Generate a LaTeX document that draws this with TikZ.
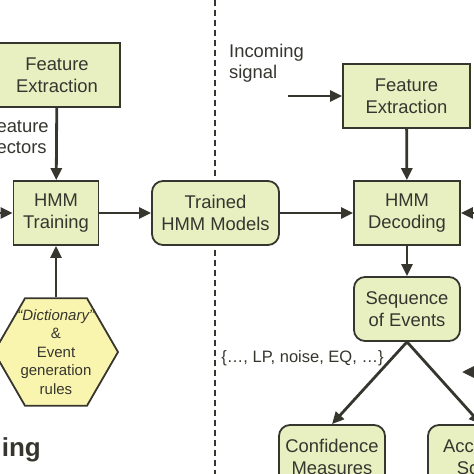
\documentclass[tikz,border=0pt]{standalone}
\usepackage{fontspec}
\setmainfont{Liberation Sans}
\usetikzlibrary{shapes.geometric,arrows.meta}
\definecolor{boxfill}{HTML}{E8F0C2}
\definecolor{hexfill}{HTML}{FAF5AE}
\definecolor{ink}{HTML}{36362F}

\begin{document}
\begin{tikzpicture}[x=1pt,y=-1pt,
    block/.style={draw=ink, line width=1.8pt, fill=boxfill, text=ink, align=center,
        minimum height=64pt, inner sep=0pt, font=\fontsize{18.4}{22}\selectfont},
    rblock/.style={block, rounded corners=11pt},
    arrow/.style={-{Triangle[length=12pt,width=11pt]}, line width=2.8pt, draw=ink},
    label/.style={text=ink, inner sep=0pt, font=\fontsize{18.4}{21}\selectfont}]
    \clip (0,0) rectangle (474,474);

    % split between training and recognition
    \draw[ink, line width=1.5pt, dash pattern=on 6pt off 4pt] (215,0) -- (215,474);

    % training side
    \node[block, minimum width=126pt] (featL) at (57,75) {Feature\\Extraction};
    \node[block, minimum width=85pt] (train) at (56,213) {HMM\\Training};
    \node[regular polygon, regular polygon sides=6, minimum size=124pt, inner sep=0pt,
        draw=ink, line width=1.8pt, fill=hexfill] (dict) at (56,352) {};
    \node[text=ink, align=center, inner sep=0pt, font=\fontsize{15}{18.5}\selectfont]
        (dictText) at (dict.center) {\textit{“Dictionary”}\\\&\\Event\\generation\\rules};
    \node[label, align=center] (vectors) at (17,137) {Feature\\vectors};
    \node[text=ink, anchor=east, inner sep=0pt, font=\fontsize{26}{30}\bfseries] (trainTitle) at (41,450) {Training};
    \coordinate (inL) at (0,213);

    \node[rblock, minimum width=127pt] (models) at (215.5,213) {Trained\\HMM Models};

    % recognition side
    \node[label, align=left, anchor=west] (signal) at (229,63) {Incoming\\signal};
    \coordinate (sigStart) at (288,96);
    \node[block, minimum width=127pt] (featR) at (406.5,96) {Feature\\Extraction};
    \node[block, minimum width=106pt] (decode) at (407,213) {HMM\\Decoding};
    \node[rblock, minimum width=106pt] (events) at (407,309) {Sequence\\of Events};
    \node[text=ink, inner sep=0pt, font=\fontsize{16.5}{20}\selectfont] (symbols) at (302.5,358)
        {\{…, LP, noise, EQ, …\}};
    \node[rblock, minimum width=106pt] (conf) at (332,457) {Confidence\\Measures};
    \node[rblock, minimum width=106pt] (acc) at (481,457) {Accuracy\\Score};
    \coordinate (inR) at (474,213);
    \coordinate (sideStart) at (474,372);
    \coordinate (sideTip) at (462,372);

    \draw[arrow] (featL) -- (train);
    \draw[arrow] (inL) -- (train);
    \draw[arrow] (dict.north) -- (train);
    \draw[arrow] (train) -- (models);
    \draw[arrow] (models) -- (decode);
    \draw[arrow] (sigStart) -- (featR);
    \draw[arrow] (featR) -- (decode);
    \draw[arrow] (inR) -- (decode);
    \draw[arrow] (decode) -- (events);
    \draw[arrow] (events.south) -- (conf.north);
    \draw[arrow] (events.south) -- (acc.north);
    \draw[arrow] (sideStart) -- (sideTip);
\end{tikzpicture}
\end{document}
